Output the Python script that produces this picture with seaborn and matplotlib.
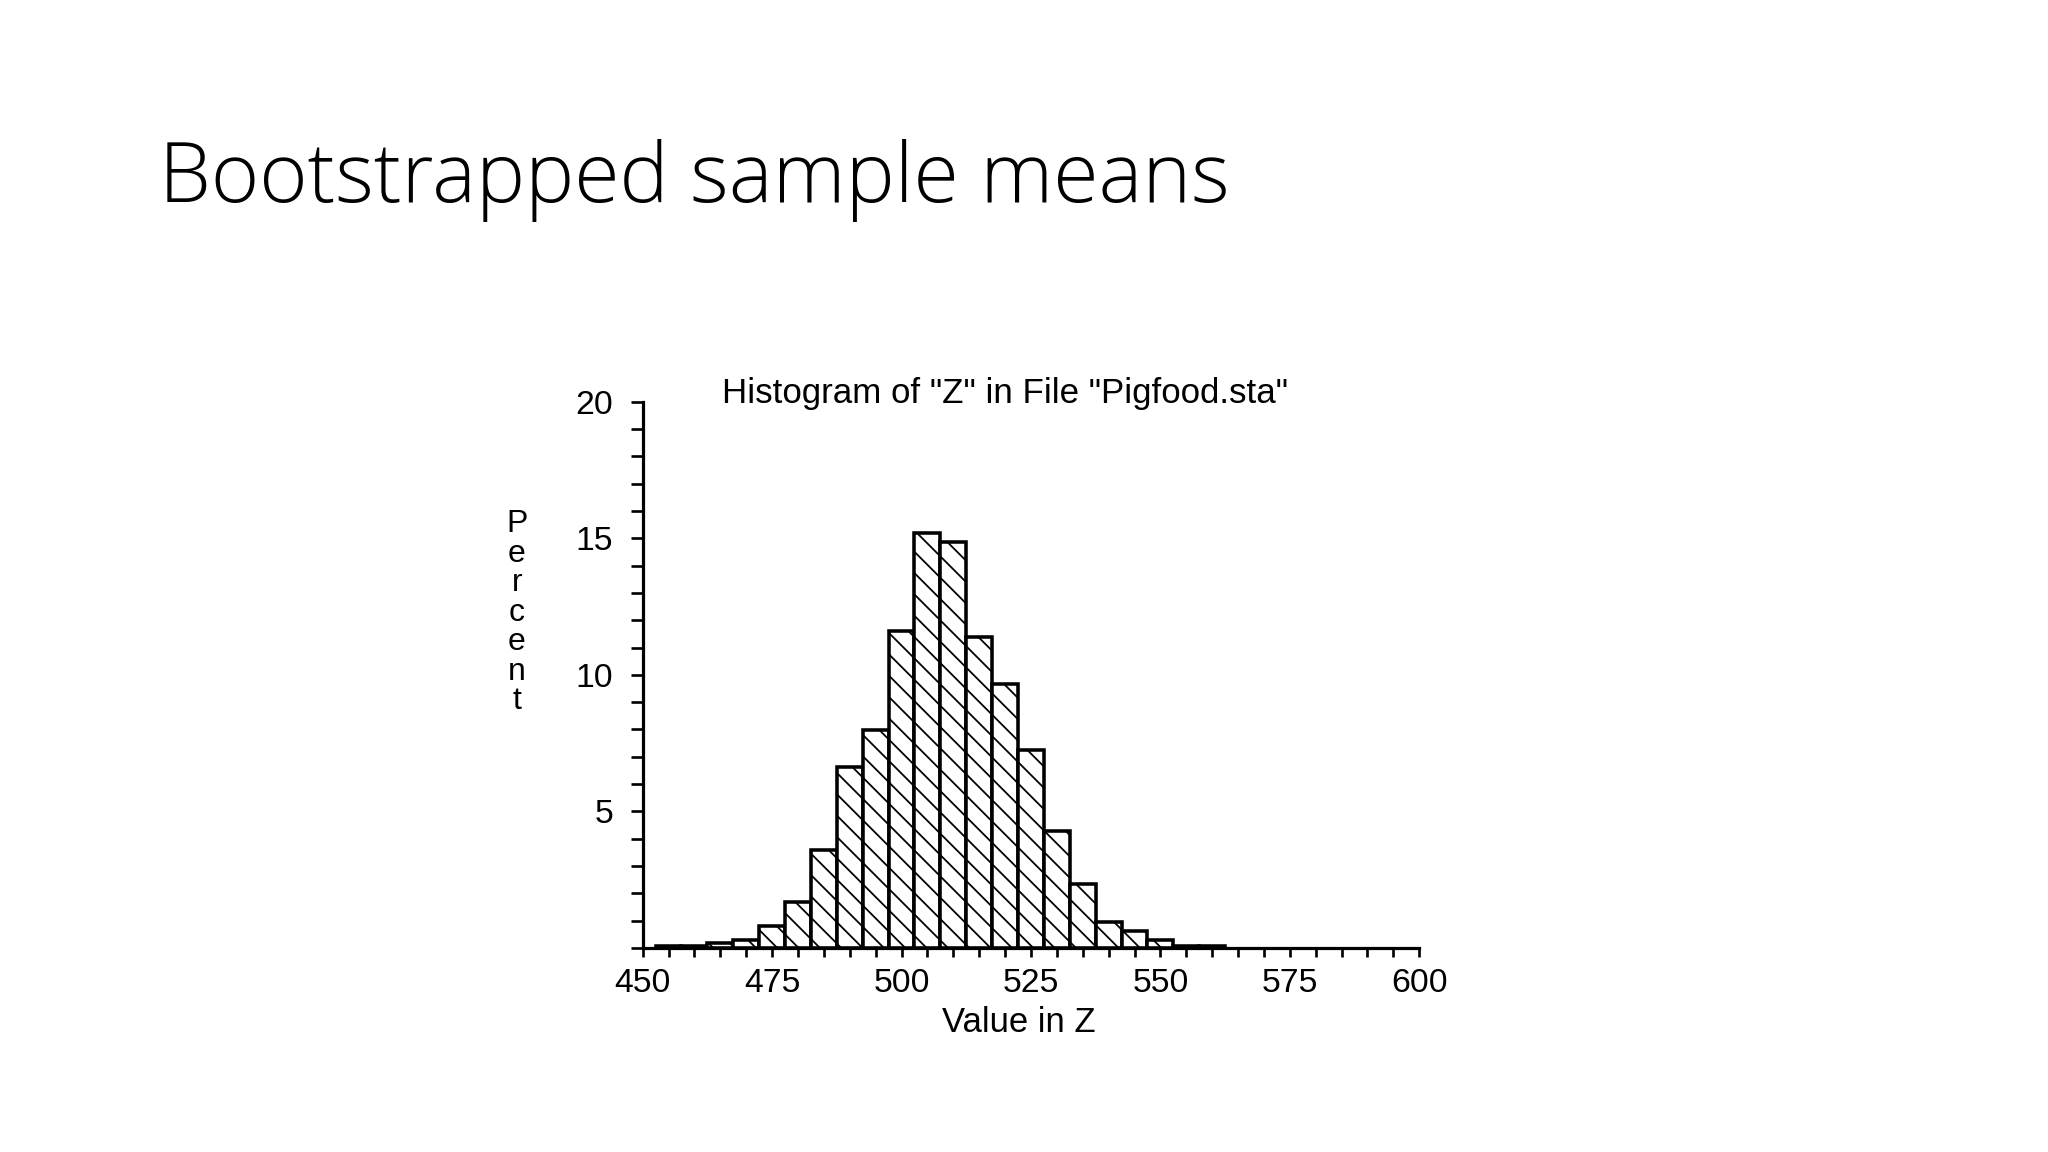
import numpy as np
import pandas as pd
import matplotlib
matplotlib.use("Agg")
import matplotlib.pyplot as plt
import matplotlib.ticker as mtick
import seaborn as sns

# Data: bootstrapped means of Z, percent per 5-unit bin (bins centred on multiples of 5)
bin_centers = [455, 460, 465, 470, 475, 480, 485, 490, 495, 500, 505,
               510, 515, 520, 525, 530, 535, 540, 545, 550, 555, 560]
percent = [0.08, 0.08, 0.18, 0.30, 0.82, 1.68, 3.60, 6.62, 7.99, 11.62, 15.18,
           14.87, 11.40, 9.67, 7.26, 4.27, 2.34, 0.94, 0.63, 0.30, 0.08, 0.08]
bin_width = 5
x_ticks = [450, 475, 500, 525, 550, 575, 600]
y_ticks = [5, 10, 15, 20]

slide_title = "Bootstrapped sample means"
chart_title = 'Histogram of "Z" in File "Pigfood.sta"'
x_label = "Value in Z"
y_label = "Percent"

sns.set_style("ticks")
plt.rcParams.update({
    "font.family": ["Liberation Sans", "DejaVu Sans"],
    "figure.facecolor": "white",
    "axes.facecolor": "white",
    "axes.linewidth": 1.8,
    "axes.edgecolor": "black",
    "text.color": "black",
    "xtick.color": "black",
    "ytick.color": "black",
    "hatch.linewidth": 1.0,
    "hatch.color": "black",
})

df = pd.DataFrame({"z": bin_centers, "pct": percent})

fig = plt.figure(figsize=(16, 9), dpi=128)
ax = fig.add_axes([0.3138, 0.1771, 0.3792, 0.4742])

edges = list(np.arange(bin_centers[0] - bin_width / 2, bin_centers[-1] + bin_width, bin_width))
sns.histplot(data=df, x="z", weights="pct", bins=edges, stat="count",
             color="white", edgecolor="black", linewidth=2.0, alpha=1,
             hatch="\\\\", ax=ax)

ax.set_xlim(450, 600)
ax.set_ylim(0, 20)
ax.set_xticks(x_ticks)
ax.set_yticks(y_ticks)
ax.xaxis.set_minor_locator(mtick.MultipleLocator(5))
ax.yaxis.set_minor_locator(mtick.MultipleLocator(1))
ax.tick_params(axis="x", which="both", direction="out", length=5, width=1.5,
               labelsize=19, pad=6.5, colors="black")
ax.tick_params(axis="y", which="both", direction="out", length=7, width=1.5,
               labelsize=19, pad=9.5, colors="black")
ax.set_xlabel("")
ax.set_ylabel("")
sns.despine(ax=ax)

# Chart texts
fig.text(0.4907, 0.6502, chart_title, ha="center", va="baseline", fontsize=19.6)
fig.text(0.4976, 0.1042, x_label, ha="center", va="baseline", fontsize=19.5)
fig.text(0.2524, 0.468, "\n".join(y_label), ha="center", va="center",
         fontsize=18, linespacing=0.98)

# Slide title
fig.text(0.0776, 0.8245, slide_title, ha="left", va="baseline", color="black",
         fontsize=46.5, fontfamily=["Open Sans", "DejaVu Sans"], fontweight="light")

fig.savefig("out.png", dpi=128, facecolor="white")
